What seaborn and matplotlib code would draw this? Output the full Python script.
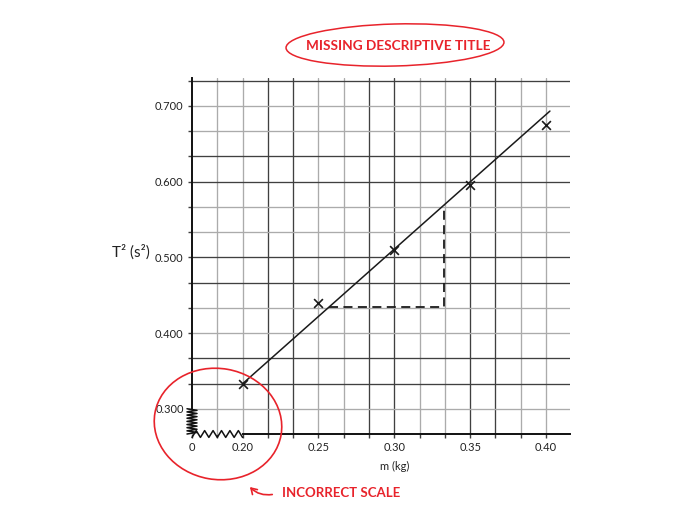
import numpy as np
import pandas as pd
import matplotlib.pyplot as plt
import seaborn as sns
from matplotlib.patches import Ellipse, FancyArrowPatch

# datos
masa = [0.20, 0.25, 0.30, 0.35, 0.40]
periodo2 = [0.333, 0.440, 0.510, 0.596, 0.675]

# recta de ajuste (extremos leidos)
recta_x = [0.20, 0.4026]
recta_y = [0.333, 0.693]

# triangulo de pendiente
tri_x = [0.257, 0.333, 0.333]
tri_y = [0.434, 0.434, 0.569]

x_labels = ["0", "0.20", "0.25", "0.30", "0.35", "0.40"]
y_labels = ["0.300", "0.400", "0.500", "0.600", "0.700"]

df = pd.DataFrame({"m": masa, "T2": periodo2})
df_recta = pd.DataFrame({"m": recta_x, "T2": recta_y})

sns.set_theme(style="white")
plt.rcParams["font.family"] = ["Lato", "DejaVu Sans"]

# cuadricula: 3 celdas por etiqueta
dx = 0.05 / 3
dy = 0.1 / 3
x0 = 0.20 - 2 * dx
y0 = 0.30 - dy
xmax = x0 + 14.95 * dx
ymax = y0 + 14.1 * dy

oscuro = "#404040"
claro = "#ababab"
rojo = "#e8232b"

fig = plt.figure(figsize=(6.79, 5.27), dpi=100)
ax = fig.add_axes([192 / 679, 1 - 434 / 527, (570 - 192) / 679, (434 - 78) / 527])

for k in range(1, 15):
    c = oscuro if ((k - 1) // 2) % 2 == 1 else claro
    ax.axvline(x0 + k * dx, color=c, lw=0.95, zorder=1)
for j in range(1, 15):
    c = oscuro if ((j - 2) // 2) % 2 == 0 else claro
    ax.axhline(y0 + j * dy, color=c, lw=0.95, zorder=1)

sns.lineplot(data=df_recta, x="m", y="T2", color="#1a1a1a", lw=1.1, ax=ax, zorder=3)
ax.plot(tri_x, tri_y, color="#1a1a1a", lw=1.3, ls=(0, (5, 3)), zorder=3)
sns.scatterplot(data=df, x="m", y="T2", marker="x", color="#1a1a1a", s=40,
                linewidth=1.2, ax=ax, zorder=4)

ax.set_xlim(x0, xmax)
ax.set_ylim(y0, ymax)

xt = [x0 + k * dx for k in range(15)]
xl = [""] * 15
for i, k in enumerate([0, 2, 5, 8, 11, 14]):
    xl[k] = x_labels[i]
yt = [y0 + j * dy for j in range(1, 15)]
yl = [""] * 14
for i, j in enumerate([1, 4, 7, 10, 13]):
    yl[j - 1] = y_labels[i]
ax.set_xticks(xt)
ax.set_xticklabels(xl)
ax.set_yticks(yt)
ax.set_yticklabels(yl)
ax.tick_params(axis="both", direction="out", length=3, width=1, color=oscuro,
               labelsize=8, labelcolor="#222222", pad=3)
ax.tick_params(axis="x", bottom=True)
ax.tick_params(axis="y", left=True)

for s in ["top", "right"]:
    ax.spines[s].set_visible(False)
ax.spines["left"].set_bounds(0.30, ymax)
ax.spines["bottom"].set_bounds(0.20, xmax)
ax.spines["left"].set_color("#111111")
ax.spines["bottom"].set_color("#111111")
ax.spines["left"].set_linewidth(1.4)
ax.spines["bottom"].set_linewidth(1.4)

ax.set_xlabel("m (kg)", fontsize=8, color="#222222", labelpad=8)
ax.set_ylabel("")
ax.xaxis.set_label_coords((0.30 - x0) / (xmax - x0), -0.075)

# simbolos de corte
n = 16
zy = np.linspace(y0, 0.30, n + 1)
zx = x0 + np.where(np.arange(n + 1) % 2 == 0, -1, 1) * 0.0033
ax.plot(zx, zy, color="#111111", lw=1.1, clip_on=False, zorder=5)
n = 12
hx = np.linspace(x0, 0.20, n + 1)
hy = y0 + np.where(np.arange(n + 1) % 2 == 0, -1, 1) * 0.0045
ax.plot(hx, hy, color="#111111", lw=1.1, clip_on=False, zorder=5)

fig.text(131 / 679, 1 - 252 / 527, "T² (s²)", fontsize=11, color="#222222",
         ha="center", va="center")

# anotaciones en rojo
over = fig.add_axes([0, 0, 1, 1], facecolor="none")
over.set_xlim(0, 679)
over.set_ylim(527, 0)
over.axis("off")
over.add_patch(Ellipse((395, 45), 218, 42, angle=-1.5, fill=False, ec=rojo, lw=1.1))
over.text(398, 46, "MISSING DESCRIPTIVE TITLE", color=rojo, fontsize=9.8,
          fontweight="bold", ha="center", va="center")
over.add_patch(Ellipse((218, 424), 128, 111, angle=10, fill=False, ec=rojo, lw=1.2))
over.add_patch(FancyArrowPatch((275, 494), (248, 485), arrowstyle="->,head_length=4,head_width=2.5",
                               connectionstyle="arc3,rad=-0.3", color=rojo, lw=1.2))
over.text(282, 493, "INCORRECT SCALE", color=rojo, fontsize=9.5,
          fontweight="bold", ha="left", va="center")

fig.savefig("out.png", dpi=100)
